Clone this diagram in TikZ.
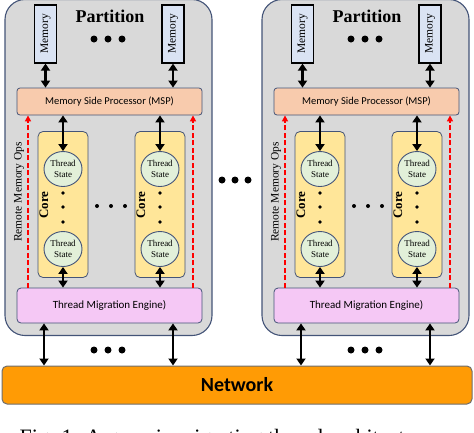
\documentclass[tikz,border=0pt]{standalone}
\usepackage{fontspec}
\setmainfont{Liberation Serif}
\newfontfamily\calfont{Carlito}
\usetikzlibrary{arrows.meta,shapes.geometric}
\definecolor{partfill}{RGB}{217,217,217}
\definecolor{partline}{RGB}{68,84,120}
\definecolor{memfill}{RGB}{218,227,243}
\definecolor{mspfill}{RGB}{248,203,173}
\definecolor{corefill}{RGB}{255,230,153}
\definecolor{thfill}{RGB}{226,240,217}
\definecolor{tmefill}{RGB}{245,200,245}
\definecolor{netfill}{RGB}{255,155,5}
\definecolor{netline}{RGB}{110,110,110}
\tikzset{
  partbox/.style={draw=partline, fill=partfill, line width=1.1pt, rounded corners=20pt,
    minimum width=207pt, minimum height=336pt},
  parttitle/.style={font=\fontsize{18}{20}\selectfont\bfseries},
  membox/.style={draw=black, fill=memfill, line width=1.2pt, inner sep=0pt,
    minimum width=22pt, minimum height=58pt},
  memtext/.style={rotate=90, font=\fontsize{11.5}{12}\selectfont},
  mspbox/.style={draw=partline, fill=mspfill, line width=0.8pt, rounded corners=3pt,
    minimum width=185pt, minimum height=27pt, font=\calfont\fontsize{10.5}{12}\selectfont},
  tmebox/.style={draw=partline, fill=tmefill, line width=0.8pt, rounded corners=4pt,
    minimum width=185pt, minimum height=35pt, font=\calfont\fontsize{11}{12}\selectfont},
  corebox/.style={draw=partline, fill=corefill, line width=0.8pt, rounded corners=5pt,
    minimum width=50pt, minimum height=146pt},
  coretext/.style={rotate=90, font=\fontsize{13}{14}\selectfont\bfseries},
  thread/.style={ellipse, draw=partline, fill=thfill, line width=0.9pt, inner sep=0pt,
    minimum width=38pt, minimum height=35pt, align=center,
    font=\fontsize{9}{11}\selectfont},
  remotetext/.style={rotate=90, font=\fontsize{11.5}{12}\selectfont},
  netbox/.style={draw=netline, fill=netfill, line width=1pt, rounded corners=5pt,
    minimum width=470pt, minimum height=38pt, font=\calfont\fontsize{20}{22}\selectfont\bfseries},
  bus/.style={line width=2.2pt, {Triangle[width=9pt,length=7pt]}-{Triangle[width=9pt,length=7pt]}},
  remote/.style={red, line width=1.8pt, dash pattern=on 5pt off 2.5pt,
    -{Triangle[width=6pt,length=6pt]}}
}
\begin{document}
\begin{tikzpicture}[x=1pt, y=-1pt]
  \useasboundingbox (0,0) rectangle (474,432);
  \clip (0,0) rectangle (474,432);
  \node[netbox] (net) at (237,385) {Network};
  \foreach \x in {222,235,248} \fill (\x,180) circle (3.5pt);
  \foreach \p/\dx in {a/0,b/257}{
    \begin{scope}[xshift=\dx pt]
      \node[partbox] (part\p) at (108.5,167.5) {};
      \node[parttitle] (title\p) at (110,16) {Partition};
      \foreach \x in {94,108,122} \fill (\x,39) circle (3.5pt);
      \node[mspbox] (msp\p) at (109.5,101.5) {Memory Side Processor (MSP)};
      \node[tmebox] (tme\p) at (109.5,305.5) {Thread Migration Engine)};
      % memories on top
      \foreach \m/\mx in {A/45.5,B/173}{
        \node[membox, label={[memtext]center:Memory}] (mem\m\p) at (\mx,34) {};
        \draw[bus] (mem\m\p.south) -- (mem\m\p.south |- msp\p.north);
      }
      % cores
      \foreach \c/\cx in {A/63,B/160}{
        \node[corebox] (core\c\p) at (\cx,204.5) {};
        \node[coretext] (coretxt\c\p) at (\cx-19,205) {Core};
        \node[thread] (thT\c\p) at (\cx,169) {Thread\\State};
        \node[thread] (thB\c\p) at (\cx,249) {Thread\\State};
        \foreach \y in {193,207,222} \fill (\cx,\y) circle (1.8pt);
        \draw[bus] (msp\p.south -| thT\c\p) -- (thT\c\p.north);
        \draw[bus] (thB\c\p.south) -- (tme\p.north -| thB\c\p);
      }
      \foreach \x in {97,111,125} \fill (\x,206) circle (2pt);
      % remote memory ops
      \foreach \r/\rx in {L/28,R/193}{
        \coordinate (rl\r\p) at (\rx,200);
        \draw[remote] (tme\p.north -| rl\r\p) -- (msp\p.south -| rl\r\p);
      }
      \node[remotetext] (remote\p) at (19,192) {Remote Memory Ops};
      % links to the network
      \foreach \l/\lx in {A/44,B/173}{
        \coordinate (link\l\p) at (\lx,345);
        \draw[bus] (tme\p.south -| link\l\p) -- (net.north -| link\l\p);
      }
      \foreach \x in {94,108,122} \fill (\x,350) circle (3.5pt);
    \end{scope}
  }
  \node[anchor=base west, font=\fontsize{22}{24}\selectfont] (caption) at (16,444)
    {Fig. 1. A generic migrating thread architecture};
\end{tikzpicture}
\end{document}
